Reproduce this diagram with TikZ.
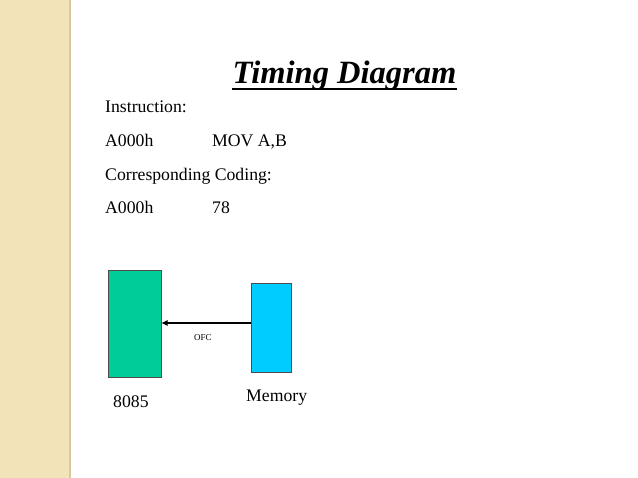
\documentclass[tikz,border=0pt]{standalone}
\usepackage{fontspec}
\setmainfont{Liberation Serif}
\usetikzlibrary{arrows.meta}
\begin{document}
\begin{tikzpicture}[x=1pt,y=-1pt,
  txt/.style={anchor=base west,inner sep=0pt,font=\fontsize{17.7}{20}\selectfont},
  blk/.style={draw=black!70,line width=0.6pt}]
\useasboundingbox (0,0) rectangle (638,478);
\fill[white] (0,0) rectangle (638,478);
\fill[fill={rgb,255:red,243;green,227;blue,184}] (0,0) rectangle (69,478);
\fill[fill={rgb,255:red,214;green,200;blue,160}] (69,0) rectangle (71,478);
\node[anchor=base,inner sep=0pt,font=\fontsize{32.5}{36}\selectfont\bfseries\itshape] (title) at (344.5,84) {Timing Diagram};
\draw[line width=1.6pt] (232,89) -- (457,89);
\node[txt] (instr) at (105,113) {Instruction:};
\node[txt] (addr1) at (105,147) {A000h};
\node[txt] (mov) at (212,147) {MOV A,B};
\node[txt] (coding) at (105,181) {Corresponding Coding:};
\node[txt] (addr2) at (105,214) {A000h};
\node[txt] (code) at (212,214) {78};
\filldraw[blk,fill={rgb,255:red,0;green,204;blue,153}] (108,270) rectangle (161,377);
\node[inner sep=0pt,minimum width=53pt,minimum height=107pt] (cpu) at (134.5,323.5) {};
\filldraw[blk,fill={rgb,255:red,0;green,204;blue,255}] (251,283) rectangle (291,372);
\node[inner sep=0pt,minimum width=40pt,minimum height=89pt] (mem) at (271,327.5) {};
\draw[line width=1.5pt,-{Latex[length=6.5pt,width=6.5pt]}] (mem.west |- 0,323) -- (cpu.east |- 0,323);
\node[anchor=base,inner sep=0pt,font=\fontsize{9}{10}\selectfont] (ofc) at (203,341) {OFC};
\node[txt] (l8085) at (113,408) {8085};
\node[txt] (lmem) at (246,402) {Memory};
\end{tikzpicture}
\end{document}
